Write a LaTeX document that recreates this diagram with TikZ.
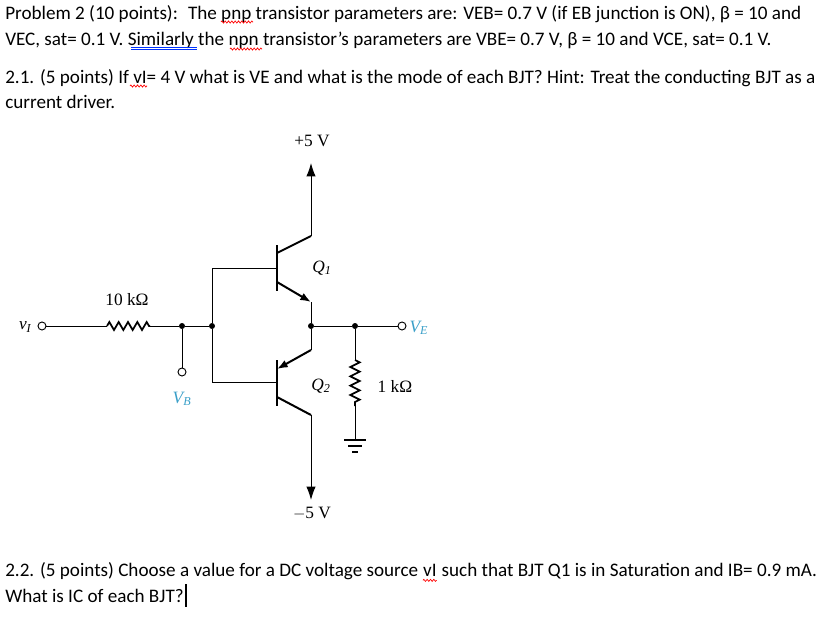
\documentclass[tikz,border=0pt]{standalone}
\usepackage{fontspec}
\setmainfont{Carlito}
\newfontfamily\ser{Liberation Serif}
\usetikzlibrary{arrows.meta,decorations.pathmorphing}
\definecolor{lblue}{HTML}{3A9FC8}
\begin{document}
\begin{tikzpicture}[x=0.75pt,y=-0.75pt,
  txt/.style={anchor=west,inner sep=0pt,font=\fontsize{14.35}{16}\selectfont},
  wire/.style={line width=0.7pt},
  dev/.style={line width=1.5pt},
  dotn/.style={circle,fill,inner sep=0pt,minimum size=4.5pt},
  term/.style={circle,draw,fill=white,inner sep=0pt,minimum size=6pt,line width=0.7pt},
  clab/.style={font=\ser\fontsize{13}{15}\selectfont,inner sep=1pt},
  squig/.style={red,line width=0.5pt,decorate,decoration={zigzag,segment length=2.5pt,amplitude=0.8pt}},
  res/.style={decorate,decoration={zigzag,segment length=7pt,amplitude=3pt},line width=1.3pt}]
\useasboundingbox (0,0) rectangle (840,618);
\node[txt] (t1) at (5,14) {Problem 2 (10 points): \ The pnp transistor parameters are: VEB= 0.7 V (if EB junction is ON), β = 10 and};
\node[txt] (t2) at (5,40) {VEC, sat= 0.1 V. Similarly the npn transistor’s parameters are VBE= 0.7 V, β = 10 and VCE, sat= 0.1 V.};
\node[txt] (t3) at (5,78) {2.1. (5 points) If vI= 4 V what is VE and what is the mode of each BJT? Hint: Treat the conducting BJT as a};
\node[txt] (t4) at (5,102) {current driver.};
\node[txt] (t5) at (5,571) {2.2. (5 points) Choose a value for a DC voltage source \smash{\tikz[baseline=0pt]{\node[inner sep=0pt,anchor=base] (vv) {vI};\draw[red,line width=0.5pt,decorate,decoration={zigzag,segment length=2.5pt,amplitude=0.8pt}] ([yshift=-3pt]vv.base west) -- ([yshift=-3pt]vv.base east);}} such that BJT Q1 is in Saturation and IB= 0.9 mA.};
\node[txt] (t6) at (5,596) {What is IC of each BJT?};
\draw[squig] (221,22) -- (253,22);
\draw[squig] (230,49) -- (262,49);
\draw[squig] (130,86) -- (147,86);
\draw[blue!80!cyan,line width=0.5pt] (131,47.5) -- (197,47.5) (131,49.5) -- (197,49.5);
\draw[line width=0.8pt] (186,584) -- (186,607);
% circuit nodes
\coordinate (top) at (311,163);
\coordinate (c1) at (311,236);
\coordinate (b1) at (277,268);
\coordinate (e1) at (311,302);
\node[dotn] (E) at (311,326) {};
\coordinate (e2) at (311,350);
\coordinate (b2) at (277,382);
\coordinate (c2) at (311,415);
\coordinate (bot) at (311,500);
\node[dotn] (J) at (212,326) {};
\node[dotn] (B) at (182,326) {};
\node[term] (vi) at (42,326) {};
\node[term] (vb) at (182,372) {};
\node[dotn] (R) at (355,326) {};
\node[term] (ve) at (402,326) {};
\coordinate (r1a) at (107,326);
\coordinate (r1b) at (150,326);
\coordinate (r2a) at (355,360);
\coordinate (r2b) at (355,406);
\coordinate (gnd) at (355,440);
% Q1
\draw[dev] (277,245) -- (277,291);
\draw[dev] (277,253) -- (c1);
\draw[dev,-{Latex[length=8pt,width=6pt]}] (277,282) -- (e1);
\draw[wire,-{Latex[length=10pt,width=7pt]}] (c1) -- (top);
\draw[wire] (e1) -- (E) -- (e2);
% Q2
\draw[dev] (277,360) -- (277,406);
\draw[dev,-{Latex[length=8pt,width=6pt]}] (e2) -- (277,369);
\draw[dev] (277,397) -- (c2);
\draw[wire,-{Latex[length=10pt,width=7pt]}] (c2) -- (bot);
% base wiring
\draw[wire] (b1) -| (J) |- (b2);
\draw[wire] (vi) -- (r1a);
\draw[res] (r1a) -- (r1b);
\draw[wire] (r1b) -- (B) -- (J);
\draw[wire] (B) -- (vb);
\draw[wire] (E) -- (R) -- (ve);
\draw[wire] (R) -- (r2a);
\draw[res,decoration={zigzag,segment length=7pt,amplitude=3.5pt}] (r2a) -- (r2b);
\draw[wire] (r2b) -- (gnd);
\draw[line width=1.3pt] (344,440) -- (366,440) (348,446) -- (362,446) (352,452) -- (358,452);
% labels
\node[clab] (l5) at (312,141) {+5 V};
\node[clab] (lm5) at (312,513) {$-$5 V};
\node[clab] (lq1) at (322,268) {\itshape Q\textsubscript{1}};
\node[clab] (lq2) at (321,386) {\itshape Q\textsubscript{2}};
\node[clab] (l10) at (127,300) {10 kΩ};
\node[clab] (l1k) at (395,386) {1 kΩ};
\node[clab,anchor=east] (lvi) at (33,327) {\itshape v\textsubscript{I}};
\node[clab,anchor=west,text=lblue] (lve) at (408,328) {\itshape V\textsubscript{E}};
\node[clab,text=lblue] (lvb) at (182,399) {\itshape V\textsubscript{B}};
\end{tikzpicture}
\end{document}
